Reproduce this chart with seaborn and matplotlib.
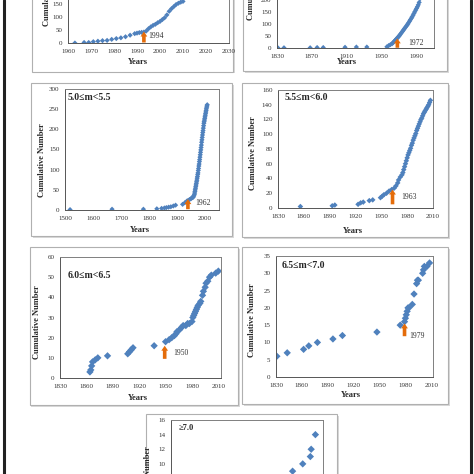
import numpy as np
import pandas as pd
import matplotlib
matplotlib.use("Agg")
import matplotlib.pyplot as plt
import seaborn as sns
from matplotlib.patches import Rectangle
from matplotlib.lines import Line2D

# ---- data ----
# panel a (magnitude class cut off at the top)
years_a = [1963, 1967, 1969, 1971, 1973, 1975, 1977, 1979, 1981, 1983, 1985, 1987, 1989, 1990,
           1991, 1992, 1993, 1994, 1995, 1996, 1997, 1998, 1999, 2000, 2001, 2002, 2003, 2004,
           2005, 2006, 2007, 2008, 2009, 2010]
counts_a = [0, 2, 2, 5, 7, 9, 10, 14, 17, 20, 24, 30, 36, 38, 40, 41, 42, 46, 55, 62, 68, 72,
            78, 83, 90, 97, 108, 122, 132, 140, 148, 153, 157, 160]

# panel b (magnitude class cut off at the top)
years_b = [1831, 1838, 1868, 1876, 1883, 1908, 1921, 1933, 1956, 1958, 1960, 1962, 1963, 1964,
           1965, 1966, 1967, 1968, 1969, 1970, 1971, 1972, 1973, 1974, 1975, 1976, 1977, 1978,
           1979, 1980, 1981, 1982, 1983, 1984, 1985, 1986, 1987, 1988, 1989, 1990, 1991, 1992,
           1993, 1994, 1995]
counts_b = [1, 1, 1, 2, 2, 3, 4, 4, 5, 10, 14, 18, 22, 26, 30, 34, 38, 42, 46, 50, 55, 60, 65,
            70, 75, 80, 85, 90, 95, 100, 106, 112, 118, 124, 130, 137, 144, 151, 158, 165, 172,
            180, 190, 205, 220]

# 5.0 <= m < 5.5
years_c = [1518, 1668, 1780, 1828, 1845, 1855, 1862, 1870, 1878, 1887, 1895, 1920, 1928, 1935,
           1940, 1945, 1950, 1953, 1956, 1958, 1960, 1962, 1963, 1964, 1965, 1966, 1967, 1968,
           1969, 1970, 1971, 1972, 1973, 1974, 1975, 1976, 1977, 1978, 1979, 1980, 1981, 1982,
           1983, 1984, 1985, 1986, 1987, 1988, 1989, 1990, 1991, 1992, 1993, 1994, 1995, 1996,
           1997, 1998, 1999, 2000, 2001, 2002, 2003, 2004, 2005, 2006, 2007, 2008]
counts_c = [1, 2, 2, 3, 4, 5, 6, 7, 8, 10, 12, 14, 18, 22, 24, 26, 28, 30, 31, 32, 35, 38, 42,
            46, 50, 54, 58, 62, 66, 70, 74, 79, 83, 88, 92, 98, 103, 109, 114, 120, 125, 131,
            137, 143, 149, 155, 161, 168, 174, 180, 186, 192, 197, 203, 209, 215, 219, 223, 227,
            231, 235, 239, 243, 247, 251, 255, 258, 261]

# 5.5 <= m < 6.0
years_d = [1856, 1893, 1896, 1923, 1926, 1929, 1936, 1940, 1949, 1951, 1953, 1956, 1959, 1962,
           1965, 1967, 1969, 1970, 1972, 1974, 1975, 1976, 1977, 1978, 1979, 1980, 1981, 1982,
           1983, 1984, 1985, 1986, 1987, 1988, 1989, 1990, 1991, 1992, 1993, 1994, 1995, 1996,
           1997, 1998, 1999, 2000, 2001, 2002, 2003, 2004, 2005, 2006, 2007]
counts_d = [2, 3, 4, 5, 7, 8, 10, 11, 14, 16, 18, 20, 23, 25, 27, 30, 34, 38, 42, 45, 48, 52,
            56, 60, 64, 68, 72, 75, 78, 81, 85, 88, 92, 95, 98, 101, 105, 108, 111, 114, 117,
            120, 122, 125, 128, 130, 132, 134, 136, 138, 140, 143, 146]

# 6.0 <= m < 6.5
years_e = [1864, 1865, 1866, 1867, 1870, 1873, 1884, 1907, 1909, 1911, 1913, 1937, 1950, 1954,
           1957, 1960, 1962, 1963, 1966, 1968, 1970, 1973, 1975, 1977, 1980, 1981, 1982, 1983,
           1984, 1985, 1986, 1987, 1989, 1990, 1992, 1993, 1995, 1996, 1998, 2000, 2002, 2007,
           2010]
counts_e = [3, 4, 6, 8, 9, 10, 11, 12, 13, 14, 15, 16, 18, 19, 20, 21, 22, 23, 24, 25, 26, 26,
            27, 27, 28, 30, 31, 32, 33, 34, 35, 36, 37, 38, 41, 43, 45, 47, 48, 50, 51, 52, 53]

# 6.5 <= m < 7.0
years_f = [1831, 1843, 1862, 1868, 1878, 1896, 1907, 1947, 1974, 1979, 1980, 1981, 1982, 1983,
           1984, 1988, 1990, 1993, 1994, 1995, 2000, 2001, 2002, 2005, 2008]
counts_f = [6, 7, 8, 9, 10, 11, 12, 13, 15, 16, 17, 18, 19, 20, 20, 21, 24, 27, 28, 28, 30, 31,
            32, 32, 33]

# >= 7.0
years_g = [1974, 1986, 1995, 1996, 2001]
counts_g = [9, 10, 11, 12, 14]

titles = [None, None, "5.0\u2264m<5.5", "5.5\u2264m<6.0", "6.0\u2264m<6.5", "6.5\u2264m<7.0", "\u22657.0"]
arrow_years = [1993, 1968, 1939, 1963, 1949, 1979, None]
arrow_labels = ["1994", "1972", "1962", "1963", "1950", "1979", None]

# ---- layout (pixel boxes on a 474 x 474 canvas) ----
W = 474.0
sns.set_style("white")
plt.rcParams["font.family"] = ["Liberation Serif", "DejaVu Serif"]

fig = plt.figure(figsize=(4.74, 4.74), dpi=100)


def frac(l, t, r, b):
    return [l / W, 1 - b / W, (r - l) / W, (b - t) / W]


def fx(x):
    return x / W


def fy(y):
    return 1 - y / W


panels = [
    dict(years=years_a, counts=counts_a, plot=(68, -9, 229, 43), box=(32, -20, 233, 72),
         xlim=(1960, 2030), xt=np.arange(1960, 2031, 10), ylim=(0, 200), yt=np.arange(0, 201, 50),
         s=7, arrow=(2, 44), alab=(1995, 26), xl=(138, 62), yl=(47, -11), tt=None),
    dict(years=years_b, counts=counts_b, plot=(277, -12, 434, 48), box=(243, -20, 447, 71),
         xlim=(1830, 2010), xt=np.arange(1830, 2011, 40), ylim=(0, 250), yt=np.arange(0, 251, 50),
         s=7, arrow=(1, 40), alab=(1980, 22), xl=(347, 62), yl=(251, -17), tt=None),
    dict(years=years_c, counts=counts_c, plot=(65, 89, 219, 210), box=(31, 83, 232, 236),
         xlim=(1500, 2050), xt=np.arange(1500, 2001, 100), ylim=(0, 300), yt=np.arange(0, 301, 50),
         s=7, arrow=(2, 27), alab=(1964, 18), xl=(140, 230), yl=(42, 160), tt=(68, 98)),
    dict(years=years_d, counts=counts_d, plot=(278, 90, 433, 208), box=(242, 83, 448, 237),
         xlim=(1830, 2010), xt=np.arange(1830, 2011, 30), ylim=(0, 160), yt=np.arange(0, 161, 20),
         s=8, arrow=(5, 25), alab=(1973, 15), xl=(353, 231), yl=(253, 153), tt=(285, 97)),
    dict(years=years_e, counts=counts_e, plot=(60, 257, 221, 378), box=(30, 247, 238, 405),
         xlim=(1830, 2013), xt=np.arange(1830, 2011, 30), ylim=(0, 60), yt=np.arange(0, 61, 10),
         s=14, arrow=(9.5, 16), alab=(1959, 12.5), xl=(138, 398), yl=(37, 322), tt=(68, 276)),
    dict(years=years_f, counts=counts_f, plot=(276, 256, 433, 377), box=(242, 247, 448, 404),
         xlim=(1830, 2012), xt=np.arange(1830, 2011, 30), ylim=(0, 35), yt=np.arange(0, 36, 5),
         s=14, arrow=(11.8, 15.5), alab=(1985, 11.8), xl=(351, 395), yl=(252, 320), tt=(282, 265)),
    dict(years=years_g, counts=counts_g, plot=(171, 420, 323, 537), box=(146, 414, 337, 560),
         xlim=(1830, 2010), xt=np.arange(1830, 2011, 30), ylim=(0, 16), yt=np.arange(0, 17, 2),
         s=14, arrow=None, alab=None, xl=None, yl=(148, 483), tt=(179, 428)),
]

blue = "#4F81BD"
orange = "#E46C0A"

for i, p in enumerate(panels):
    # framed box around each chart, with a soft shadow
    l, t, r, b = p["box"]
    fig.add_artist(Rectangle((fx(l + 1.5), fy(b + 1.5)), (r - l) / W, (b - t) / W,
                             transform=fig.transFigure, facecolor="#d9d9d9", edgecolor="none",
                             zorder=-3))
    fig.add_artist(Rectangle((fx(l), fy(b)), (r - l) / W, (b - t) / W,
                             transform=fig.transFigure, facecolor="white", edgecolor="#b0b0b0",
                             lw=0.8, zorder=-2))

    ax = fig.add_axes(frac(*p["plot"]))
    df = pd.DataFrame({"year": p["years"], "count": p["counts"]})
    sns.scatterplot(data=df, x="year", y="count", marker="D", s=p["s"], color=blue,
                    edgecolor="none", ax=ax, legend=False)
    ax.set_xlim(*p["xlim"])
    ax.set_ylim(*p["ylim"])
    ax.set_xticks(p["xt"])
    ax.set_yticks(p["yt"])
    ax.set_xlabel("")
    ax.set_ylabel("")
    ax.tick_params(labelsize=5, length=2, width=0.5, pad=2, colors="#333333", direction="out")
    for side in ["left", "bottom"]:
        ax.spines[side].set_color("#555555")
        ax.spines[side].set_linewidth(0.7)
    for side in ["top", "right"]:
        ax.spines[side].set_color("#7f7f7f")
        ax.spines[side].set_linewidth(0.7)
    ax.set_facecolor("white")

    if p["arrow"] is not None:
        ay = arrow_years[i]
        ax.annotate("", xy=(ay, p["arrow"][1]), xytext=(ay, p["arrow"][0]),
                    arrowprops=dict(arrowstyle="simple,head_width=0.75,head_length=0.55,tail_width=0.4",
                                    color=orange, lw=0, mutation_scale=6.5, shrinkA=0, shrinkB=0),
                    zorder=5)
        ax.text(p["alab"][0], p["alab"][1], arrow_labels[i], fontsize=5.5, color="#333333",
                ha="left", va="center")

    if titles[i] is not None:
        tx, ty = p["tt"]
        fig.text(fx(tx), fy(ty), titles[i], fontsize=7 if i < 6 else 6, fontweight="bold",
                 ha="left", va="center")
    if p["xl"] is not None:
        fig.text(fx(p["xl"][0]), fy(p["xl"][1]), "Years", fontsize=6, fontweight="bold",
                 ha="center", va="center")
    fig.text(fx(p["yl"][0]), fy(p["yl"][1]), "Cumulative Number", fontsize=6, fontweight="bold",
             rotation=90, ha="center", va="center")

# dark page edges
fig.add_artist(Line2D([fx(4), fx(4)], [0, 1], color="#222222", lw=2.2, transform=fig.transFigure))
fig.add_artist(Line2D([fx(471), fx(471)], [0, 1], color="#222222", lw=2.2, transform=fig.transFigure))

fig.savefig("out.png", dpi=100, facecolor="white")
